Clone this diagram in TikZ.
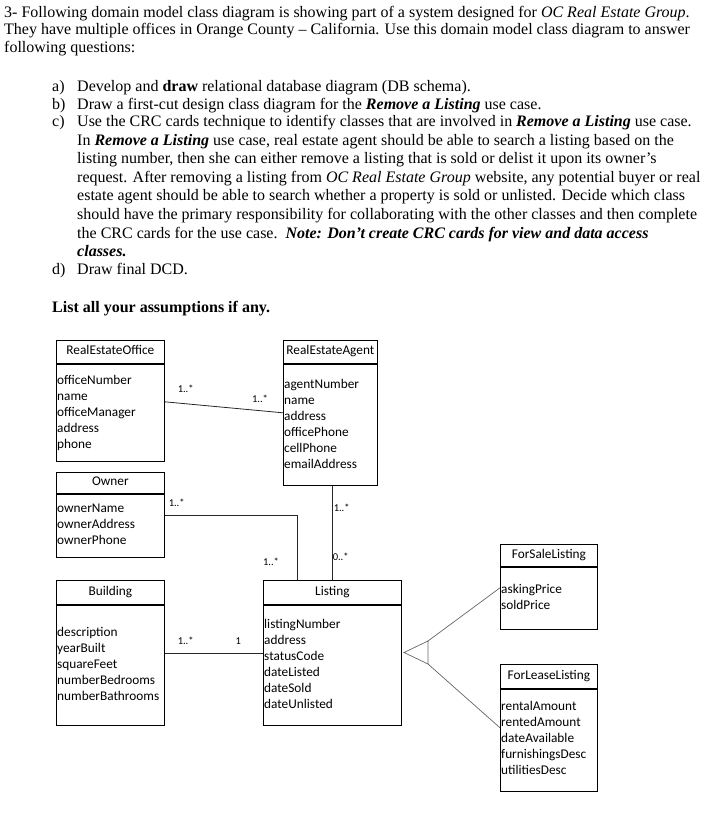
\documentclass[tikz,border=0pt]{standalone}
\usepackage{fontspec}
\setmainfont{Liberation Serif}
\newfontfamily\calibri{Carlito}
\usetikzlibrary{positioning,calc}
\tikzset{
  para/.style={font=\fontsize{16}{17.5}\selectfont, align=left, inner sep=0pt, anchor=north west},
  itemtext/.style={font=\fontsize{16}{18.6}\selectfont, align=left, inner sep=0pt, anchor=north west},
  classhead/.style={draw, line width=0.8pt, inner sep=0pt, anchor=north west, text height=8.5pt, text depth=2.5pt, font=\calibri\fontsize{13.3}{16}\selectfont},
  classbody/.style={draw, line width=0.8pt, inner sep=0pt},
  attrlist/.style={align=left, inner sep=0pt, font=\calibri\fontsize{13.3}{16}\selectfont},
  mult/.style={inner sep=0pt, font=\calibri\fontsize{10.5}{12}\selectfont},
  assoc/.style={line width=0.8pt, draw=black!85},
  genline/.style={line width=0.7pt, draw=black!60}
}
\begin{document}
\begin{tikzpicture}[x=1pt, y=-1pt]
\useasboundingbox (0,0) rectangle (726,831);

% question text
\node[para] (intro) at (4,4.75) {\strut 3- Following domain model class diagram is showing part of a system designed for \textit{OC Real Estate Group}.\\
They have multiple offices in Orange County -- California. Use this domain model class diagram to answer\\
following questions:};
\node[itemtext] (labA) at (52,78.5) {\strut a)};
\node[itemtext] (textA) at (77,78.5) {\strut Develop and \textbf{draw} relational database diagram (DB schema).};
\node[itemtext] (labB) at (52,96) {\strut b)};
\node[itemtext] (textB) at (77,96) {\strut Draw a first-cut design class diagram for the \textbf{\textit{Remove a Listing}} use case.};
\node[itemtext] (labC) at (52,113.3) {\strut c)};
\node[itemtext] (textC) at (77,113.3) {\strut Use the CRC cards technique to identify classes that are involved in \textbf{\textit{Remove a Listing}} use case.\\
In \textbf{\textit{Remove a Listing}} use case, real estate agent should be able to search a listing based on the\\
listing number, then she can either remove a listing that is sold or delist it upon its owner’s\\
request. After removing a listing from \textit{OC Real Estate Group} website, any potential buyer or real\\
estate agent should be able to search whether a property is sold or unlisted. Decide which class\\
should have the primary responsibility for collaborating with the other classes and then complete\\
the CRC cards for the use case.\enspace\textbf{\textit{Note: Don't create CRC cards for view and data access}}\\
\textbf{\textit{classes.}}};
\node[itemtext] (labD) at (52,261) {\strut d)};
\node[itemtext] (textD) at (77,261) {\strut Draw final DCD.};
\node[itemtext] (assume) at (52,299.5) {\strut\textbf{List all your assumptions if any.}};

% classes
\node[classhead, minimum width=108pt, minimum height=23pt] (office) at (56,340) {RealEstateOffice};
\node[classbody, minimum width=108pt, minimum height=97pt, below=0pt of office] (officebody) {};
\node[attrlist, below right=9.6pt and 1pt of officebody.north west] (officeattrs) {\strut officeNumber\\name\\officeManager\\address\\phone};

\node[classhead, minimum width=94pt, minimum height=23pt] (agent) at (283,340) {RealEstateAgent};
\node[classbody, minimum width=94pt, minimum height=121pt, below=0pt of agent] (agentbody) {};
\node[attrlist, below right=12.9pt and 1pt of agentbody.north west] (agentattrs) {\strut agentNumber\\name\\address\\officePhone\\cellPhone\\emailAddress};

\node[classhead, minimum width=108pt, minimum height=21pt] (owner) at (56,472) {Owner};
\node[classbody, minimum width=108pt, minimum height=63pt, below=0pt of owner] (ownerbody) {};
\node[attrlist, below right=7.2pt and 1pt of ownerbody.north west] (ownerattrs) {\strut ownerName\\ownerAddress\\ownerPhone};

\node[classhead, minimum width=108pt, minimum height=24pt] (building) at (56,580) {Building};
\node[classbody, minimum width=108pt, minimum height=120pt, below=0pt of building] (buildingbody) {};
\node[attrlist, below right=20.2pt and 1pt of buildingbody.north west] (buildingattrs) {\strut description\\yearBuilt\\squareFeet\\numberBedrooms\\numberBathrooms};

\node[classhead, minimum width=138pt, minimum height=24pt] (listing) at (263,580) {Listing};
\node[classbody, minimum width=138pt, minimum height=120pt, below=0pt of listing] (listingbody) {};
\node[attrlist, below right=12.2pt and 1pt of listingbody.north west] (listingattrs) {\strut listingNumber\\address\\statusCode\\dateListed\\dateSold\\dateUnlisted};

\node[classhead, minimum width=97pt, minimum height=22pt] (forsale) at (500,544) {ForSaleListing};
\node[classbody, minimum width=97pt, minimum height=62pt, below=0pt of forsale] (forsalebody) {};
\node[attrlist, below right=14.9pt and 1pt of forsalebody.north west] (forsaleattrs) {\strut askingPrice\\soldPrice};

\node[classhead, minimum width=97pt, minimum height=24pt] (forlease) at (500,664) {ForLeaseListing};
\node[classbody, minimum width=97pt, minimum height=102pt, below=0pt of forlease] (forleasebody) {};
\node[attrlist, below right=10.6pt and 1pt of forleasebody.north west] (forleaseattrs) {\strut rentalAmount\\rentedAmount\\dateAvailable\\furnishingsDesc\\utilitiesDesc};

% associations
\draw[assoc] ($(officebody.north east)+(0,38)$) -- ($(agentbody.north west)+(0,49)$);
\draw[assoc] ($(ownerbody.north east)+(0,22)$) -| ($(listing.north west)+(34,0)$);
\draw[assoc] ($(agentbody.south west)+(49,0)$) -- ($(listing.north west)+(69,0)$);
\draw[assoc] ($(buildingbody.north east)+(0,48.7)$) -- ($(listingbody.north west)+(0,48.7)$);

\node[mult] (m1) at (185.7,389.3) {1..*};
\node[mult] (m2) at (260,399.3) {1..*};
\node[mult] (m3) at (176.7,503.3) {1..*};
\node[mult] (m4) at (271,562.3) {1..*};
\node[mult] (m5) at (341.7,508.3) {1..*};
\node[mult] (m6) at (340.7,557.3) {0..*};
\node[mult] (m7) at (185.7,640.7) {1..*};
\node[mult] (m8) at (238.3,640.7) {1};

% generalization
\coordinate (gentip) at (404,652.5);
\coordinate (gentop) at (428,641);
\coordinate (genbot) at (428,664);
\draw[genline, fill=white] (gentip) -- (gentop) -- (genbot) -- cycle;
\draw[genline] (gentop) -- ($(forsalebody.north west)+(0,21)$);
\draw[genline] (genbot) -- ($(forleasebody.north west)+(0,39)$);
\end{tikzpicture}
\end{document}
